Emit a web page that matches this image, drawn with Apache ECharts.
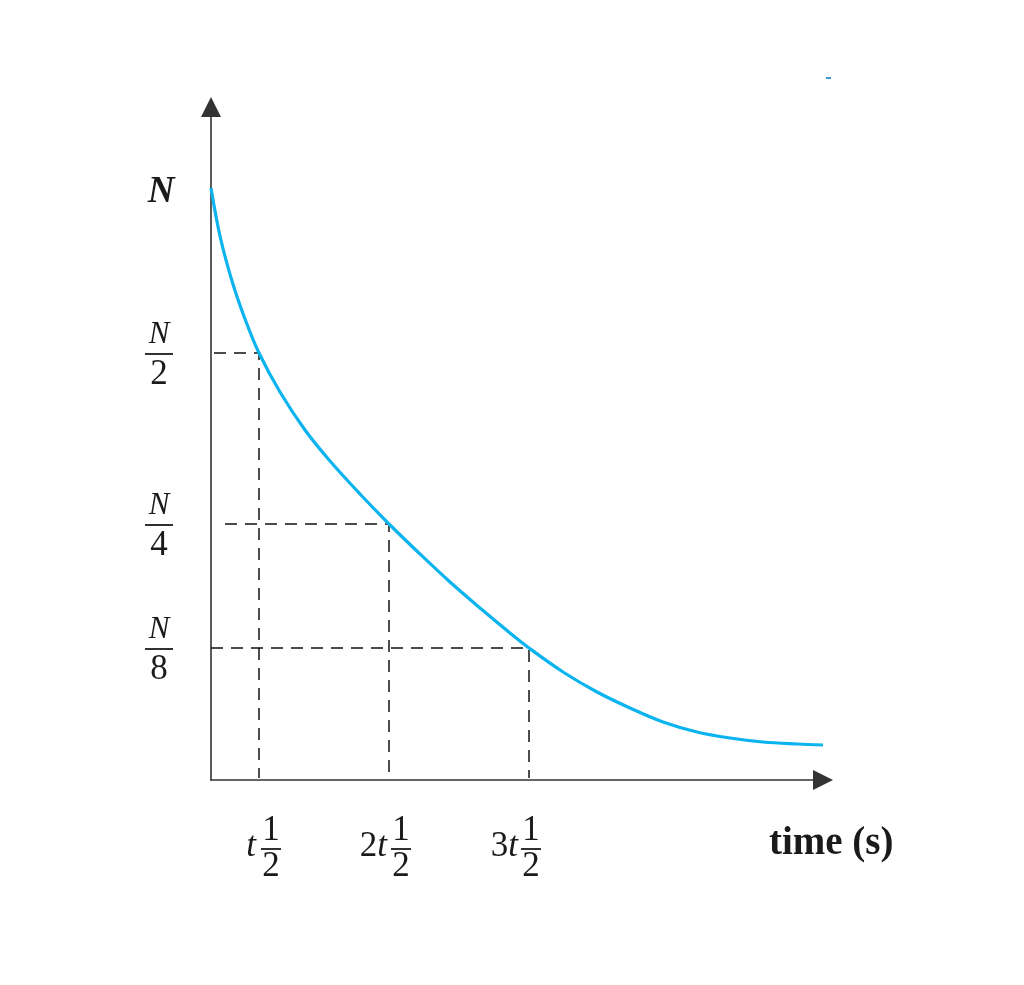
<!DOCTYPE html>
<html>
<head>
<meta charset="utf-8">
<script src="https://cdn.jsdelivr.net/npm/echarts@6/dist/echarts.min.js"></script>
<style>
  html, body { margin: 0; padding: 0; background: #fff; }
  #main { width: 1024px; height: 985px; }
</style>
</head>
<body>
<div id="main"></div>
<script>
// units: x = time (arbitrary), y = amount (arbitrary)
const curveX = [0, 9, 21, 34, 48, 69, 94, 119, 149, 178, 209, 239, 269, 299, 318, 352, 386, 419, 452, 486, 519, 552, 586, 612];
const curveY = [592, 544, 499, 461, 427, 388, 350, 319, 286, 256, 226, 198, 172, 147, 132, 108, 88, 72, 58, 48, 42, 38, 36, 35];

const halfX = [48, 178, 318];      // t1/2, 2t1/2, 3t1/2
const halfY = [427, 256, 132];     // N/2, N/4, N/8
const hStart = [3, 14, 0];         // where the horizontal dashes begin
const yLabels = ["2", "4", "8"];
const xPrefix = ["t", "2t", "3t"];
const topY = 592;                  // N

const chart = echarts.init(document.getElementById("main"));

const serif = "Liberation Serif";
const ink = "#1a1a1a";

const dashSeries = halfX.map(function (x, i) {
  return {
    type: "line",
    data: [[hStart[i], halfY[i]], [x, halfY[i]], [x, 2]],
    symbol: "none",
    silent: true,
    lineStyle: { color: "#111", width: 1.5, type: [12, 8] },
    z: 1,
  };
});

const option = {
  backgroundColor: "#fff",
  animation: false,
  grid: { left: 211, top: 107, width: 612, height: 673 },
  xAxis: {
    type: "value",
    min: 0,
    max: 612,
    axisLine: {
      lineStyle: { color: "#333", width: 1.6 },
      symbol: ["none", "triangle"],
      symbolSize: [20, 20],
    },
    axisTick: { show: false },
    axisLabel: { show: false },
    splitLine: { show: false },
  },
  yAxis: {
    type: "value",
    min: 0,
    max: 673,
    axisLine: {
      show: true,
      lineStyle: { color: "#333", width: 1.6 },
      symbol: ["none", "triangle"],
      symbolSize: [20, 20],
    },
    axisTick: { show: false },
    axisLabel: { show: false },
    splitLine: { show: false },
  },
  series: [
    ...dashSeries,
    {
      name: "N",
      type: "line",
      data: curveX.map(function (x, i) { return [x, curveY[i]]; }),
      smooth: 0.35,
      symbol: "none",
      lineStyle: { color: "#0bb4ef", width: 3.2 },
      z: 3,
    },
    {
      // y labels: N/2, N/4, N/8
      type: "scatter",
      symbolSize: 0,
      silent: true,
      itemStyle: { opacity: 1 },
      data: halfY.map(function (y, i) { return { value: [0, y], name: yLabels[i] }; }),
      label: {
        show: true,
        position: "inside",
        offset: [-52, 3],
        color: ink,
        opacity: 1,
        formatter: function (p) { return "{n|N}\n{bar|}\n{d|" + p.name + "}"; },
        rich: {
          n: { fontFamily: serif, fontStyle: "italic", fontSize: 31, lineHeight: 34, color: ink, align: "center" },
          bar: { width: 28, height: 1.8, backgroundColor: ink, lineHeight: 4, align: "center" },
          d: { fontFamily: serif, fontSize: 35, lineHeight: 38, color: ink, align: "center" },
        },
      },
    },
    {
      // top N label
      type: "scatter",
      symbolSize: 0,
      silent: true,
      itemStyle: { opacity: 1 },
      data: [[0, topY]],
      label: {
        show: true,
        position: "inside",
        offset: [-50, 4],
        formatter: "N",
        fontFamily: serif,
        fontStyle: "italic",
        fontWeight: "bold",
        fontSize: 37,
        color: ink,
        opacity: 1,
      },
    },
    {
      // x labels prefix: t, 2t, 3t
      type: "scatter",
      symbolSize: 0,
      silent: true,
      itemStyle: { opacity: 1 },
      data: halfX.map(function (x, i) {
        return {
          value: [x, 0],
          name: xPrefix[i],
          label: { offset: [[-3, 67], [-2, 67], [-11, 67]][i] },
        };
      }),
      label: {
        show: true,
        position: "inside",
        align: "right",
        color: ink,
        opacity: 1,
        formatter: function (p) {
          return p.name.length > 1
            ? "{r|" + p.name.slice(0, -1) + "}{i|t}"
            : "{i|t}";
        },
        rich: {
          r: { fontFamily: serif, fontSize: 35, color: ink },
          i: { fontFamily: serif, fontStyle: "italic", fontSize: 35, color: ink },
        },
      },
    },
    {
      // x labels fraction 1/2
      type: "scatter",
      symbolSize: 0,
      silent: true,
      itemStyle: { opacity: 1 },
      data: halfX.map(function (x, i) {
        return { value: [x, 0], label: { offset: [[12, 69], [12, 69], [2, 69]][i] } };
      }),
      label: {
        show: true,
        position: "inside",
        color: ink,
        opacity: 1,
        formatter: "{n|1}\n{bar|}\n{d|2}",
        rich: {
          n: { fontFamily: serif, fontSize: 35, lineHeight: 32, color: ink, align: "center" },
          bar: { width: 20, height: 1.8, backgroundColor: ink, lineHeight: 4, align: "center" },
          d: { fontFamily: serif, fontSize: 35, lineHeight: 32, color: ink, align: "center" },
        },
      },
    },
  ],
  graphic: [
    {
      type: "text",
      left: 769,
      top: 824,
      style: {
        text: "time (s)",
        font: "bold 39px 'Liberation Serif'",
        fill: ink,
      },
    },
    {
      type: "rect",
      shape: { x: 826, y: 77, width: 5, height: 2 },
      style: { fill: "#3a9ad9" },
    },
  ],
};

chart.setOption(option);
</script>
</body>
</html>
